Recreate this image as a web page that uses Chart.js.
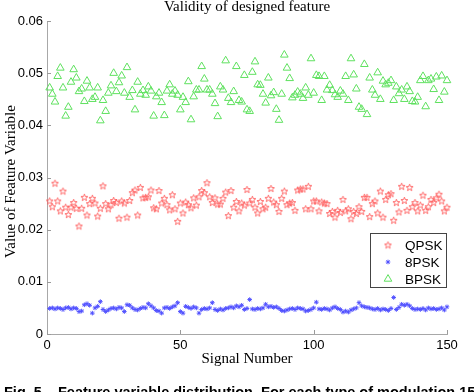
<!DOCTYPE html>
<html>
<head>
<meta charset="utf-8">
<script src="https://cdn.jsdelivr.net/npm/chart.js@4/dist/chart.umd.min.js"></script>
<style>
html, body { margin: 0; padding: 0; background: #fff; overflow: hidden; }
</style>
</head>
<body>
<canvas id="c" width="474" height="392"></canvas>
<script>
// values, one per signal number 1..150
var qpsk = [
    0.0255, 0.0244, 0.0289, 0.0255, 0.0236, 0.0274, 0.0243, 0.0229, 0.0243, 0.0252,
    0.0241, 0.0207, 0.0241, 0.0262, 0.0228, 0.0250, 0.0260, 0.0251, 0.0226, 0.0241,
    0.0284, 0.0250, 0.0240, 0.0248, 0.0256, 0.0252, 0.0222, 0.0255, 0.0251, 0.0224,
    0.0256, 0.0271, 0.0276, 0.0228, 0.0281, 0.0261, 0.0262, 0.0263, 0.0276, 0.0242,
    0.0240, 0.0275, 0.0251, 0.0260, 0.0248, 0.0238, 0.0267, 0.0240, 0.0216, 0.0251,
    0.0232, 0.0253, 0.0248, 0.0242, 0.0261, 0.0247, 0.0263, 0.0275, 0.0271, 0.0290,
    0.0263, 0.0252, 0.0261, 0.0249, 0.0249, 0.0260, 0.0272, 0.0227, 0.0275, 0.0243,
    0.0254, 0.0236, 0.0251, 0.0247, 0.0277, 0.0251, 0.0258, 0.0243, 0.0232, 0.0254,
    0.0240, 0.0243, 0.0260, 0.0279, 0.0253, 0.0248, 0.0235, 0.0260, 0.0274, 0.0248,
    0.0251, 0.0252, 0.0237, 0.0276, 0.0278, 0.0278, 0.0240, 0.0283, 0.0240, 0.0255,
    0.0255, 0.0236, 0.0253, 0.0251, 0.0250, 0.0231, 0.0235, 0.0224, 0.0237, 0.0233,
    0.0258, 0.0236, 0.0240, 0.0221, 0.0235, 0.0231, 0.0244, 0.0235, 0.0262, 0.0262,
    0.0225, 0.0250, 0.0255, 0.0232, 0.0274, 0.0224, 0.0258, 0.0267, 0.0269, 0.0218,
    0.0252, 0.0234, 0.0283, 0.0256, 0.0237, 0.0281, 0.0244, 0.0252, 0.0236, 0.0247,
    0.0266, 0.0237, 0.0244, 0.0258, 0.0252, 0.0261, 0.0268, 0.0255, 0.0236, 0.0243
];
var psk8 = [
    0.0049, 0.0050, 0.0048, 0.0050, 0.0049, 0.0047, 0.0050, 0.0051, 0.0048, 0.0050,
    0.0049, 0.0043, 0.0044, 0.0056, 0.0058, 0.0055, 0.0040, 0.0050, 0.0053, 0.0062,
    0.0047, 0.0043, 0.0046, 0.0049, 0.0050, 0.0048, 0.0051, 0.0050, 0.0043, 0.0056,
    0.0055, 0.0050, 0.0047, 0.0046, 0.0049, 0.0051, 0.0050, 0.0058, 0.0054, 0.0050,
    0.0045, 0.0044, 0.0040, 0.0050, 0.0051, 0.0049, 0.0052, 0.0054, 0.0060, 0.0043,
    0.0040, 0.0053, 0.0051, 0.0049, 0.0052, 0.0050, 0.0040, 0.0047, 0.0049, 0.0048,
    0.0050, 0.0060, 0.0047, 0.0045, 0.0048, 0.0046, 0.0049, 0.0050, 0.0052, 0.0050,
    0.0054, 0.0052, 0.0055, 0.0047, 0.0049, 0.0066, 0.0048, 0.0047, 0.0049, 0.0048,
    0.0050, 0.0057, 0.0052, 0.0053, 0.0051, 0.0052, 0.0049, 0.0045, 0.0044, 0.0046,
    0.0048, 0.0049, 0.0047, 0.0050, 0.0049, 0.0048, 0.0044, 0.0045, 0.0047, 0.0050,
    0.0061, 0.0048, 0.0047, 0.0049, 0.0048, 0.0046, 0.0050, 0.0052, 0.0049, 0.0047,
    0.0042, 0.0044, 0.0042, 0.0046, 0.0048, 0.0050, 0.0060, 0.0054, 0.0052, 0.0051,
    0.0050, 0.0048, 0.0047, 0.0049, 0.0046, 0.0048, 0.0047, 0.0045, 0.0049, 0.0070,
    0.0047, 0.0051, 0.0057, 0.0055, 0.0057, 0.0054, 0.0049, 0.0047, 0.0048, 0.0047,
    0.0049, 0.0046, 0.0050, 0.0048, 0.0049, 0.0047, 0.0048, 0.0050, 0.0046, 0.0052
];
var bpsk = [
    0.0472, 0.0460, 0.0445, 0.0494, 0.0510, 0.0472, 0.0418, 0.0435, 0.0483, 0.0507,
    0.0491, 0.0465, 0.0470, 0.0446, 0.0485, 0.0472, 0.0450, 0.0454, 0.0472, 0.0409,
    0.0448, 0.0427, 0.0462, 0.0476, 0.0500, 0.0465, 0.0482, 0.0495, 0.0462, 0.0511,
    0.0454, 0.0467, 0.0430, 0.0483, 0.0460, 0.0467, 0.0458, 0.0474, 0.0466, 0.0418,
    0.0455, 0.0462, 0.0444, 0.0419, 0.0466, 0.0478, 0.0460, 0.0466, 0.0458, 0.0430,
    0.0454, 0.0444, 0.0484, 0.0411, 0.0455, 0.0468, 0.0468, 0.0513, 0.0489, 0.0468,
    0.0468, 0.0460, 0.0442, 0.0417, 0.0474, 0.0468, 0.0524, 0.0452, 0.0444, 0.0465,
    0.0513, 0.0448, 0.0445, 0.0496, 0.0430, 0.0427, 0.0502, 0.0522, 0.0478, 0.0477,
    0.0460, 0.0443, 0.0491, 0.0457, 0.0463, 0.0431, 0.0410, 0.0460, 0.0535, 0.0510,
    0.0490, 0.0453, 0.0458, 0.0464, 0.0460, 0.0452, 0.0472, 0.0458, 0.0528, 0.0462,
    0.0496, 0.0494, 0.0448, 0.0494, 0.0468, 0.0477, 0.0467, 0.0459, 0.0454, 0.0466,
    0.0460, 0.0494, 0.0448, 0.0528, 0.0497, 0.0470, 0.0435, 0.0431, 0.0517, 0.0421,
    0.0491, 0.0468, 0.0458, 0.0501, 0.0450, 0.0485, 0.0478, 0.0481, 0.0486, 0.0448,
    0.0474, 0.0461, 0.0468, 0.0450, 0.0474, 0.0465, 0.0446, 0.0445, 0.0454, 0.0486,
    0.0494, 0.0436, 0.0486, 0.0489, 0.0469, 0.0493, 0.0448, 0.0495, 0.0464, 0.0486
];
var seriesNames = ['QPSK', '8PSK', 'BPSK'];
var xTicks = [0, 50, 100, 150];
var yTicks = [0, 0.01, 0.02, 0.03, 0.04, 0.05, 0.06];
var yTickLabels = ['0', '0.01', '0.02', '0.03', '0.04', '0.05', '0.06'];

var RED = 'rgb(255,90,90)';
var BLUE = 'rgb(80,80,255)';
var GREEN = 'rgb(95,225,95)';

// five pointed star outline, used as marker for QPSK
function pentagram(color) {
    var cv = document.createElement('canvas');
    cv.width = 9;
    cv.height = 9;
    var g = cv.getContext('2d');
    g.strokeStyle = color;
    g.lineWidth = 0.9;
    g.beginPath();
    for (var k = 0; k < 10; k++) {
        var r = (k % 2 == 0) ? 3.6 : 1.5;
        var a = -Math.PI / 2 + k * Math.PI / 5;
        var px = 4.5 + r * Math.cos(a);
        var py = 4.8 + r * Math.sin(a);
        if (k == 0) g.moveTo(px, py); else g.lineTo(px, py);
    }
    g.closePath();
    g.stroke();
    return cv;
}
var starImg = pentagram(RED);

function toPoints(arr) {
    var out = [];
    for (var i = 0; i < arr.length; i++) {
        out.push({x: i + 1, y: arr[i]});
    }
    return out;
}

var markers = [
    {style: starImg, radius: 4, color: RED},
    {style: 'star', radius: 2.3, color: BLUE},
    {style: 'triangle', radius: 4.4, color: GREEN}
];

var decor = {
    id: 'decor',
    afterDraw: function(chart) {
        var ctx = chart.ctx;
        var area = chart.chartArea;
        var xs = chart.scales.x, ys = chart.scales.y;
        ctx.save();
        // inward tick marks
        ctx.strokeStyle = '#9a9a9a';
        ctx.lineWidth = 1;
        ctx.beginPath();
        for (var i = 0; i < xTicks.length; i++) {
            var px = Math.round(xs.getPixelForValue(xTicks[i])) + 0.5;
            ctx.moveTo(px, area.bottom);
            ctx.lineTo(px, area.bottom - 4);
        }
        for (var j = 0; j < yTicks.length; j++) {
            var py = Math.round(ys.getPixelForValue(yTicks[j])) + 0.5;
            ctx.moveTo(area.left, py);
            ctx.lineTo(area.left + 4, py);
        }
        ctx.stroke();

        ctx.fillStyle = '#000';
        var cx = (area.left + area.right) / 2;
        ctx.textAlign = 'center';
        ctx.textBaseline = 'alphabetic';
        ctx.font = '15px "Liberation Serif"';
        ctx.fillText('Validity of designed feature', cx, 11);
        ctx.fillText('Signal Number', cx, 363);

        ctx.save();
        ctx.translate(11, (area.top + area.bottom) / 2 + 4);
        ctx.rotate(-Math.PI / 2);
        ctx.textBaseline = 'middle';
        ctx.fillText('Value of Feature Variable', 0, 0);
        ctx.restore();

        // legend box
        var lx = 370, ly = 233, lw = 76, lh = 54;
        ctx.fillStyle = '#fff';
        ctx.fillRect(lx, ly, lw, lh);
        ctx.strokeStyle = '#444';
        ctx.strokeRect(lx + 0.5, ly + 0.5, lw, lh);
        var rows = [245, 262, 279];
        ctx.font = '13.5px "Liberation Sans"';
        ctx.textAlign = 'left';
        ctx.textBaseline = 'middle';
        for (var k = 0; k < seriesNames.length; k++) {
            var m = markers[k];
            ctx.strokeStyle = m.color;
            ctx.fillStyle = 'rgba(0,0,0,0)';
            ctx.lineWidth = 1;
            Chart.helpers.drawPoint(ctx, {pointStyle: m.style, radius: m.radius, borderWidth: 1}, 388, rows[k]);
            ctx.fillStyle = '#000';
            ctx.fillText(seriesNames[k], 405, rows[k] + 1);
        }

        // figure caption, cut off by the bottom edge
        ctx.font = 'bold 14.5px "Liberation Sans"';
        ctx.textBaseline = 'top';
        ctx.fillText('Fig. 5    Feature variable distribution. For each type of modulation 150', 4, 386);
        ctx.restore();
    }
};

var tickFont = {family: 'Liberation Sans', size: 13};

new Chart(document.getElementById('c'), {
    type: 'scatter',
    data: {
        datasets: [
            {label: seriesNames[0], data: toPoints(qpsk), pointStyle: starImg, pointRadius: 4,
             borderColor: RED, backgroundColor: RED, clip: false},
            {label: seriesNames[1], data: toPoints(psk8), pointStyle: 'star', pointRadius: 2.3,
             borderColor: BLUE, backgroundColor: BLUE, borderWidth: 1, clip: false},
            {label: seriesNames[2], data: toPoints(bpsk), pointStyle: 'triangle', pointRadius: 4.4,
             borderColor: GREEN, backgroundColor: 'rgba(0,0,0,0)', borderWidth: 1, clip: false}
        ]
    },
    options: {
        responsive: false,
        animation: false,
        events: [],
        layout: {padding: {left: 0, right: 27, top: 21, bottom: 0}},
        plugins: {legend: {display: false}, title: {display: false}, tooltip: {enabled: false}},
        scales: {
            x: {
                type: 'linear', min: 0, max: 150,
                afterBuildTicks: function(s) { s.ticks = xTicks.map(function(v) { return {value: v}; }); },
                ticks: {font: tickFont, color: '#000', padding: 4, maxRotation: 0},
                grid: {drawOnChartArea: false, drawTicks: false},
                border: {color: '#a8a8a8'},
                afterFit: function(s) { s.height = 58; }
            },
            y: {
                type: 'linear', min: 0, max: 0.06,
                afterBuildTicks: function(s) { s.ticks = yTicks.map(function(v) { return {value: v}; }); },
                ticks: {font: tickFont, color: '#000', padding: 4,
                        callback: function(v, i) { return yTickLabels[i]; }},
                grid: {drawOnChartArea: false, drawTicks: false},
                border: {color: '#a8a8a8'},
                afterFit: function(s) { s.width = 47; }
            }
        }
    },
    plugins: [decor]
});
</script>
</body>
</html>
